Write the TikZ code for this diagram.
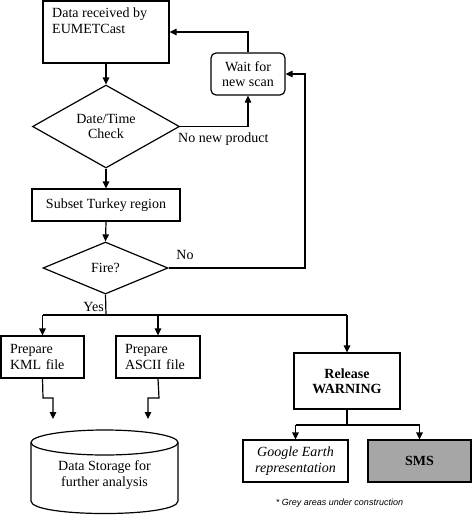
\documentclass[tikz,border=0pt]{standalone}
\usepackage{fontspec}
\setmainfont{Liberation Serif}
\newfontfamily\notefont{Liberation Sans}
\usetikzlibrary{arrows.meta,shapes.geometric}
\tikzset{
  box/.style={draw, line width=1.2pt, rectangle, inner sep=0pt, align=center, font=\fontsize{14}{15.5}\selectfont},
  leftbox/.style={box, align=left, inner xsep=9pt},
  decide/.style={draw, line width=1.2pt, diamond, inner sep=0pt, align=center, font=\fontsize{14}{15.5}\selectfont},
  lbl/.style={inner sep=1pt, font=\fontsize{14}{15.5}\selectfont},
  conn/.style={line width=1.2pt},
  arr/.style={line width=1.2pt, -{Triangle[length=7pt,width=6.5pt]}},
}
\begin{document}
\begin{tikzpicture}[x=1pt,y=-1pt]
\useasboundingbox (0,0) rectangle (474,515);
% nodes
\node[box, minimum width=126, minimum height=62] (data) at (106,32) {};
\node[lbl, anchor=north west, align=left, inner sep=0pt] (datatxt) at (52,8) {Data received by\\EUMETCast};
\node[decide, minimum width=147, minimum height=83, aspect=1.77] (date) at (106,126.5) {Date/Time\\Check};
\node[box, rounded corners=5pt, minimum width=74, minimum height=42] (wait) at (248,74) {Wait for\\new scan};
\node[box, minimum width=148, minimum height=32] (subset) at (106,205) {Subset Turkey region};
\node[decide, minimum width=125, minimum height=52, aspect=2.4] (fire) at (105.5,268) {Fire?};
\node[leftbox, text width=65pt, minimum height=42] (kml) at (42.5,357) {Prepare\\KML file};
\node[leftbox, text width=66pt, minimum height=42] (ascii) at (158,357) {Prepare\\ASCII file};
\node[box, minimum width=106, minimum height=56, font=\fontsize{14}{15.5}\selectfont\bfseries] (release) at (347,381) {Release\\WARNING};
\node[box, minimum width=105, minimum height=42, font=\fontsize{14}{15.5}\selectfont\itshape] (google) at (295.5,461) {Google Earth\\representation};
\node[box, fill=black!35, minimum width=103, minimum height=42, font=\fontsize{14}{15.5}\selectfont\bfseries] (sms) at (419.5,461) {SMS};
% cylinder
\draw[line width=1.2pt] (104.5,442.5) ellipse [x radius=73.5pt, y radius=12.5pt];
\draw[line width=1.2pt] (31,442.5) -- (31,501) .. controls (31,517.7) and (178,517.7) .. (178,501) -- (178,442.5);
\node[lbl, align=center] (store) at (104.5,475) {Data Storage for\\further analysis};
\coordinate (storeA) at (53,419);
\coordinate (storeB) at (148,419);
% labels
\node[lbl, anchor=west] (nonew) at (177,139) {No new product};
\node[lbl] (no) at (185,255) {No};
\node[lbl, anchor=east] (yes) at (105,307) {Yes};
\node[inner sep=0pt, font=\notefont\fontsize{9}{10}\selectfont\itshape] (note) at (339.5,503) {* Grey areas under construction};
% connectors
\draw[arr] (data.south) -- (date.north);
\draw[arr] (date.east) -| (wait.south);
\draw[arr] (wait.north) |- (data.east);
\draw[arr] (date.south) -- (subset.north);
\draw[arr] (subset.south) -- (fire.north);
\draw[arr] (fire.east) -- (305,268) |- (wait.east);
\coordinate (split) at (106,315);
\draw[conn] (fire.south) -- (split);
\draw[conn] (kml.north |- split) -- (release.north |- split);
\draw[arr] (kml.north |- split) -- (kml.north);
\draw[arr] (ascii.north |- split) -- (ascii.north);
\draw[arr] (release.north |- split) -- (release.north);
\draw[arr] (kml.south) -- (43,398) -| (storeA);
\draw[arr] (ascii.south) -- (159,398) -| (storeB);
\coordinate (split2) at (347,425);
\draw[conn] (release.south) -- (split2);
\draw[conn] (google.north |- split2) -- (sms.north |- split2);
\draw[arr] (google.north |- split2) -- (google.north);
\draw[arr] (sms.north |- split2) -- (sms.north);
\end{tikzpicture}
\end{document}
